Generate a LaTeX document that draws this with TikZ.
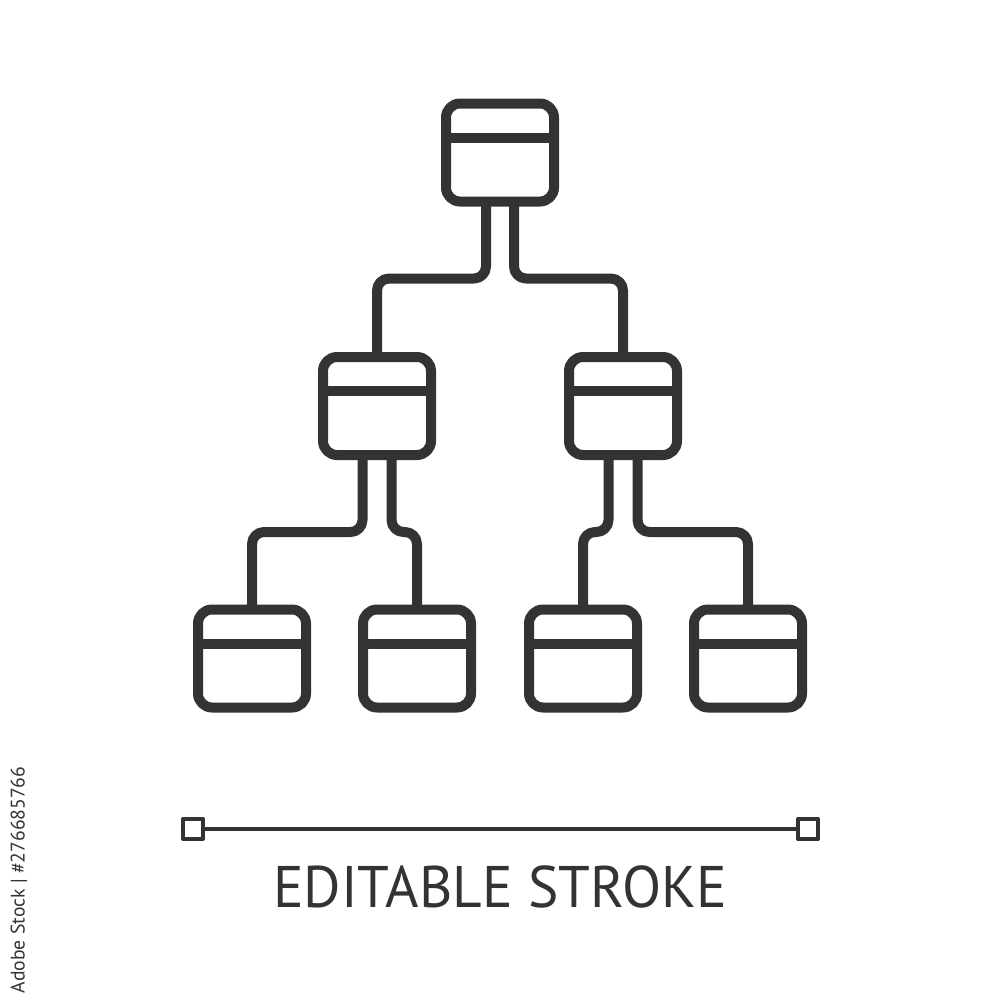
\documentclass[tikz,border=0pt]{standalone}
\usepackage{fontspec}
\setmainfont{PT Sans}
\definecolor{ink}{RGB}{51,51,51}

\begin{document}
\begin{tikzpicture}[x=0.1mm, y=-0.1mm, line cap=round, line join=round,
  box/.style={draw=ink, line width=1mm, rounded corners=1.4mm, minimum width=10.8mm,
    minimum height=9.8mm, inner sep=0, outer sep=0},
  wire/.style={draw=ink, line width=1mm, line cap=butt, rounded corners=1.2mm},
  bar/.style={draw=ink, line width=1mm, line cap=butt},
  handle/.style={draw=ink, line width=0.4mm, minimum size=2mm, inner sep=0, outer sep=0},
  ruler/.style={draw=ink, line width=0.4mm}]

% Frame
\fill[white] (0,0) rectangle (1000,1000);
\useasboundingbox (0,0) rectangle (1000,1000);

% Boxes
\node[box] (top) at (500,152.5) {};
\node[box] (ml) at (377,406) {};
\node[box] (mr) at (623,406) {};
\node[box] (b1) at (252,658.5) {};
\node[box] (b2) at (417,658.5) {};
\node[box] (b3) at (583,658.5) {};
\node[box] (b4) at (748,658.5) {};

% Dividers
\foreach \b in {top,ml,mr,b1,b2,b3,b4}
  \draw[bar] ([yshift=-3.4mm]\b.north west) -- ([yshift=-3.4mm]\b.north east);

% Links
\draw[wire] ([xshift=-1.4mm]top.south) -- ++(0,77) -| (ml.north);
\draw[wire] ([xshift=1.4mm]top.south) -- ++(0,77) -| (mr.north);
\draw[wire] ([xshift=-1.45mm]ml.south) -- ++(0,77) -| (b1.north);
\draw[wire] ([xshift=1.45mm]ml.south) -- ++(0,77) -| (b2.north);
\draw[wire] ([xshift=-1.45mm]mr.south) -- ++(0,77) -| (b3.north);
\draw[wire] ([xshift=1.45mm]mr.south) -- ++(0,77) -| (b4.north);

% Stroke ruler
\node[handle] (hl) at (193,829) {};
\node[handle] (hr) at (808,829) {};
\draw[ruler] (hl) -- (hr);

% Labels
\node[text=ink, font=\fontsize{16.7}{18}\selectfont, inner sep=0] (cap) at (500,887) {\scalebox{0.975}[1]{EDITABLE STROKE}};
\node[text=ink, rotate=90, font=\fontsize{5.6}{6.5}\selectfont, inner sep=0] (tag) at (19,880) {Adobe Stock | \#276685766};

\end{tikzpicture}
\end{document}
